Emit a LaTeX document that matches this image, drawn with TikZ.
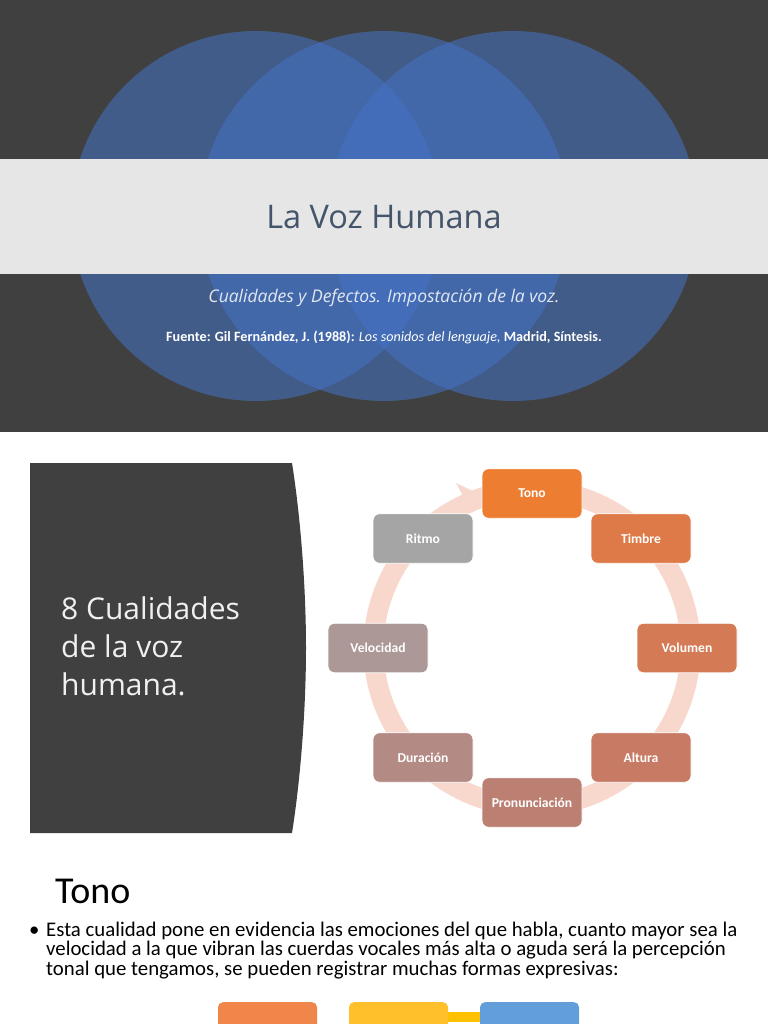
\documentclass[tikz,border=0pt]{standalone}
\usepackage{fontspec}
\setmainfont{Open Sans}
\newfontfamily\carl{Carlito}
\usetikzlibrary{calc}
\definecolor{dark}{HTML}{404040}
\definecolor{ringc}{HTML}{F8D8CD}
\definecolor{band}{HTML}{E6E6E6}
\tikzset{
 disc/.style={fill={rgb,255:red,68;green,114;blue,196},fill opacity=.56,draw=none},
 cyc/.style={draw=white,line width=.8pt,rounded corners=6.5pt,minimum width=100pt,minimum height=49.5pt,inner sep=0pt,text=white,font=\carl\bfseries\fontsize{13.6}{15}\selectfont},
 flow/.style={draw=none,rounded corners=5pt,minimum width=99pt,minimum height=49pt,inner sep=0pt,anchor=north},
 lbl/.style={inner sep=0pt,anchor=base west},
 headl/.style={lbl,text={rgb,255:red,240;green,240;blue,240},font=\fontsize{30}{38}\selectfont},
 bodyl/.style={lbl,text=black,font=\carl\fontsize{20.8}{24}\selectfont}
}
\begin{document}
\begin{tikzpicture}[x=1pt,y=-1pt]
\useasboundingbox (0,0) rectangle (768,1024);
\clip (0,0) rectangle (768,1024);
\fill[white] (0,0) rectangle (768,1024);
% slide 1
\fill[dark] (0,0) rectangle (768,432);
\fill[disc] (256,216) circle[radius=185];
\fill[disc] (384,216) circle[radius=185];
\fill[disc] (513,216) circle[radius=185];
\fill[band] (0,159) rectangle (768,274);
\node[inner sep=0pt,text={rgb,255:red,68;green,84;blue,106}] (title) at (384,217) {\fontsize{32.5}{38}\selectfont La Voz Humana};
\node[inner sep=0pt,text={rgb,255:red,226;green,232;blue,242}] (sub) at (384,297.5) {\fontsize{17.5}{21}\selectfont\itshape Cualidades y Defectos. Impostación de la voz.};
\node[inner sep=0pt,text=white] (src) at (384,337) {\carl\fontsize{14.15}{16}\selectfont\bfseries Fuente: Gil Fernández, J. (1988): {\mdseries\itshape Los sonidos del lenguaje,} Madrid, Síntesis.};
% slide 2
\fill[dark] (30,463) -- (292,463) .. controls (301,520) and (306,590) .. (306,648) .. controls (306,706) and (301,776) .. (292,833) -- (30,833) -- cycle;
\node[headl] (h1) at (61,619) {8 Cualidades};
\node[headl] (h2) at (61,657) {de la voz};
\node[headl] (h3) at (61,695) {humana.};
\draw[ringc,line width=20pt] (532,648) ++(-114:158.5) arc[start angle=-114,end angle=275,radius=158.5];
\path[fill=ringc] (456,483) -- (477,493) -- (472,513) -- (462,494) -- cycle;
\node[cyc,fill={rgb,255:red,237;green,125;blue,49}] (n1) at (532,493.5) {Tono};
\node[cyc,fill={rgb,255:red,222;green,122;blue,71}] (n2) at (641,538.5) {Timbre};
\node[cyc,fill={rgb,255:red,212;green,122;blue,85}] (n3) at (687,648) {Volumen};
\node[cyc,fill={rgb,255:red,200;green,123;blue,100}] (n4) at (641,757.5) {Altura};
\node[cyc,fill={rgb,255:red,188;green,128;blue,115}] (n5) at (532,802.5) {Pronunciación};
\node[cyc,fill={rgb,255:red,180;green,138;blue,133}] (n6) at (423,757.5) {Duración};
\node[cyc,fill={rgb,255:red,172;green,152;blue,150}] (n7) at (378,648) {Velocidad};
\node[cyc,fill={rgb,255:red,165;green,165;blue,165}] (n8) at (423,538.5) {Ritmo};
% slide 3
\node[lbl,text=black] (tono) at (55,903) {\carl\fontsize{38}{40}\selectfont Tono};
\node[bodyl] (bul) at (29,936) {•};
\node[bodyl] (b1) at (46,936) {Esta cualidad pone en evidencia las emociones del que habla, cuanto mayor sea la};
\node[bodyl] (b2) at (46,955.5) {velocidad a la que vibran las cuerdas vocales más alta o aguda será la percepción};
\node[bodyl] (b3) at (46,975) {tonal que tengamos, se pueden registrar muchas formas expresivas:};
\node[flow,fill={rgb,255:red,240;green,134;blue,74}] (f1) at (267.5,1002) {};
\node[flow,fill={rgb,255:red,255;green,192;blue,44}] (f2) at (398.5,1002) {};
\node[flow,fill={rgb,255:red,98;green,158;blue,218}] (f3) at (529.5,1002) {};
\coordinate (lvl) at (0,1017);
\draw[line width=10pt,draw={rgb,255:red,255;green,192;blue,0}] (f2.east |- lvl) -- (f3.west |- lvl);
\end{tikzpicture}
\end{document}
